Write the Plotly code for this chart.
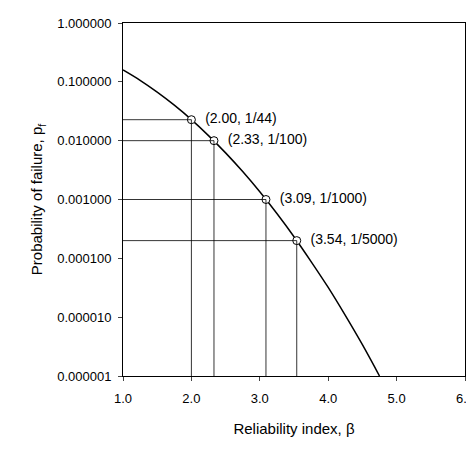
import plotly.graph_objects as go

# curve
curve_beta = [1.0, 1.25, 1.5, 1.75, 2.0, 2.25, 2.5, 2.75, 3.0, 3.25, 3.5, 3.75, 4.0, 4.25, 4.5, 4.75]
curve_pf = [0.159, 0.106, 0.0668, 0.0401, 0.0228, 0.0122, 0.0062, 0.00298, 0.00135,
            0.000577, 0.000233, 8.8e-05, 3.2e-05, 1.07e-05, 3.4e-06, 1.0e-06]

# marked points
pt_beta = [2.00, 2.33, 3.09, 3.54]
pt_pf = [1 / 44, 1 / 100, 1 / 1000, 1 / 5000]
pt_labels = ["  (2.00, 1/44)", "  (2.33, 1/100)", "  (3.09, 1/1000)", "  (3.54, 1/5000)"]

y_ticks = [1e-6, 1e-5, 1e-4, 1e-3, 1e-2, 1e-1, 1]
y_ticktext = ["0.000001", "0.000010", "0.000100", "0.001000", "0.010000", "0.100000", "1.000000"]
x_ticks = [1, 2, 3, 4, 5, 6]

fig = go.Figure()
fig.add_trace(go.Scatter(x=curve_beta, y=curve_pf, mode="lines", line=dict(color="black", width=1.5, shape="spline"),
                         hoverinfo="skip"))

for b, p in zip(pt_beta, pt_pf):
    fig.add_shape(type="line", x0=1, x1=b, y0=p, y1=p, line=dict(color="black", width=0.8))
    fig.add_shape(type="line", x0=b, x1=b, y0=1e-6, y1=p, line=dict(color="black", width=0.8))

fig.add_trace(go.Scatter(x=pt_beta, y=pt_pf, mode="markers+text", text=pt_labels, textposition="middle right",
                         textfont=dict(size=14, color="black", family="Arial"), cliponaxis=False,
                         marker=dict(size=8, color="white", line=dict(color="black", width=1))))

fig.update_layout(
    width=474, height=458, showlegend=False,
    plot_bgcolor="white", paper_bgcolor="white",
    margin=dict(l=115, r=12, t=8, b=90),
    font=dict(family="Arial", size=13, color="black"),
)
fig.update_xaxes(range=[1, 6], tickvals=x_ticks, ticktext=["1.0", "2.0", "3.0", "4.0", "5.0", "6.0"],
                 showline=True, linecolor="black", mirror=True, showgrid=False, zeroline=False,
                 ticks="outside", ticklen=4, ticklabelstandoff=6,
                 title=dict(text="Reliability index, β", font=dict(size=15), standoff=18))
fig.update_yaxes(type="log", range=[-6, 0], tickvals=y_ticks, ticktext=y_ticktext,
                 showline=True, linecolor="black", mirror=True, showgrid=False, zeroline=False,
                 ticks="outside", ticklen=4, ticklabelstandoff=4,
                 title=dict(text="Probability of failure, p<sub>f</sub>", font=dict(size=15), standoff=10))

fig.write_html("out.html")
